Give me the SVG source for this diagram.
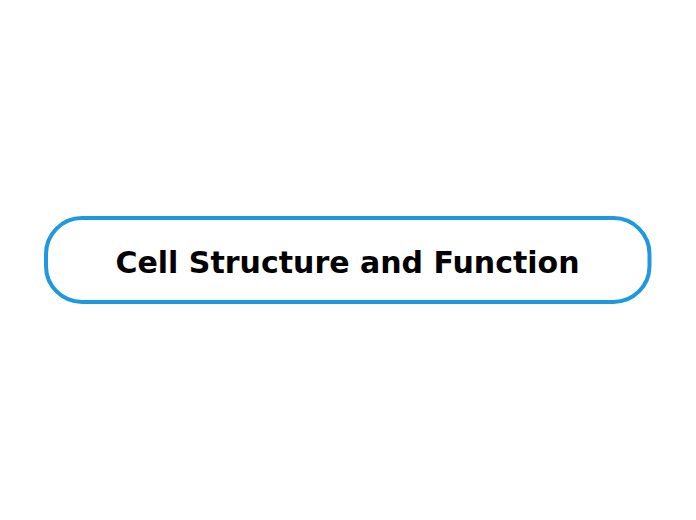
<svg xmlns="http://www.w3.org/2000/svg" width="696" height="520" viewBox="0 0 696 520">
<style>
.node-shape{fill:#ffffff;stroke:#1e98df;stroke-width:4}
.node-label{font-family:"DejaVu Sans",Verdana,sans-serif;font-weight:bold;font-size:30px;fill:#000000}
</style>
<rect width="696" height="520" fill="#ffffff"/>
<g id="connectors"></g>
<g id="node-root">
<rect class="node-shape" x="46" y="218" width="603.5" height="84" rx="36" ry="36"/>
<text class="node-label" x="347.5" y="273" text-anchor="middle">Cell Structure and Function</text>
</g>
</svg>
